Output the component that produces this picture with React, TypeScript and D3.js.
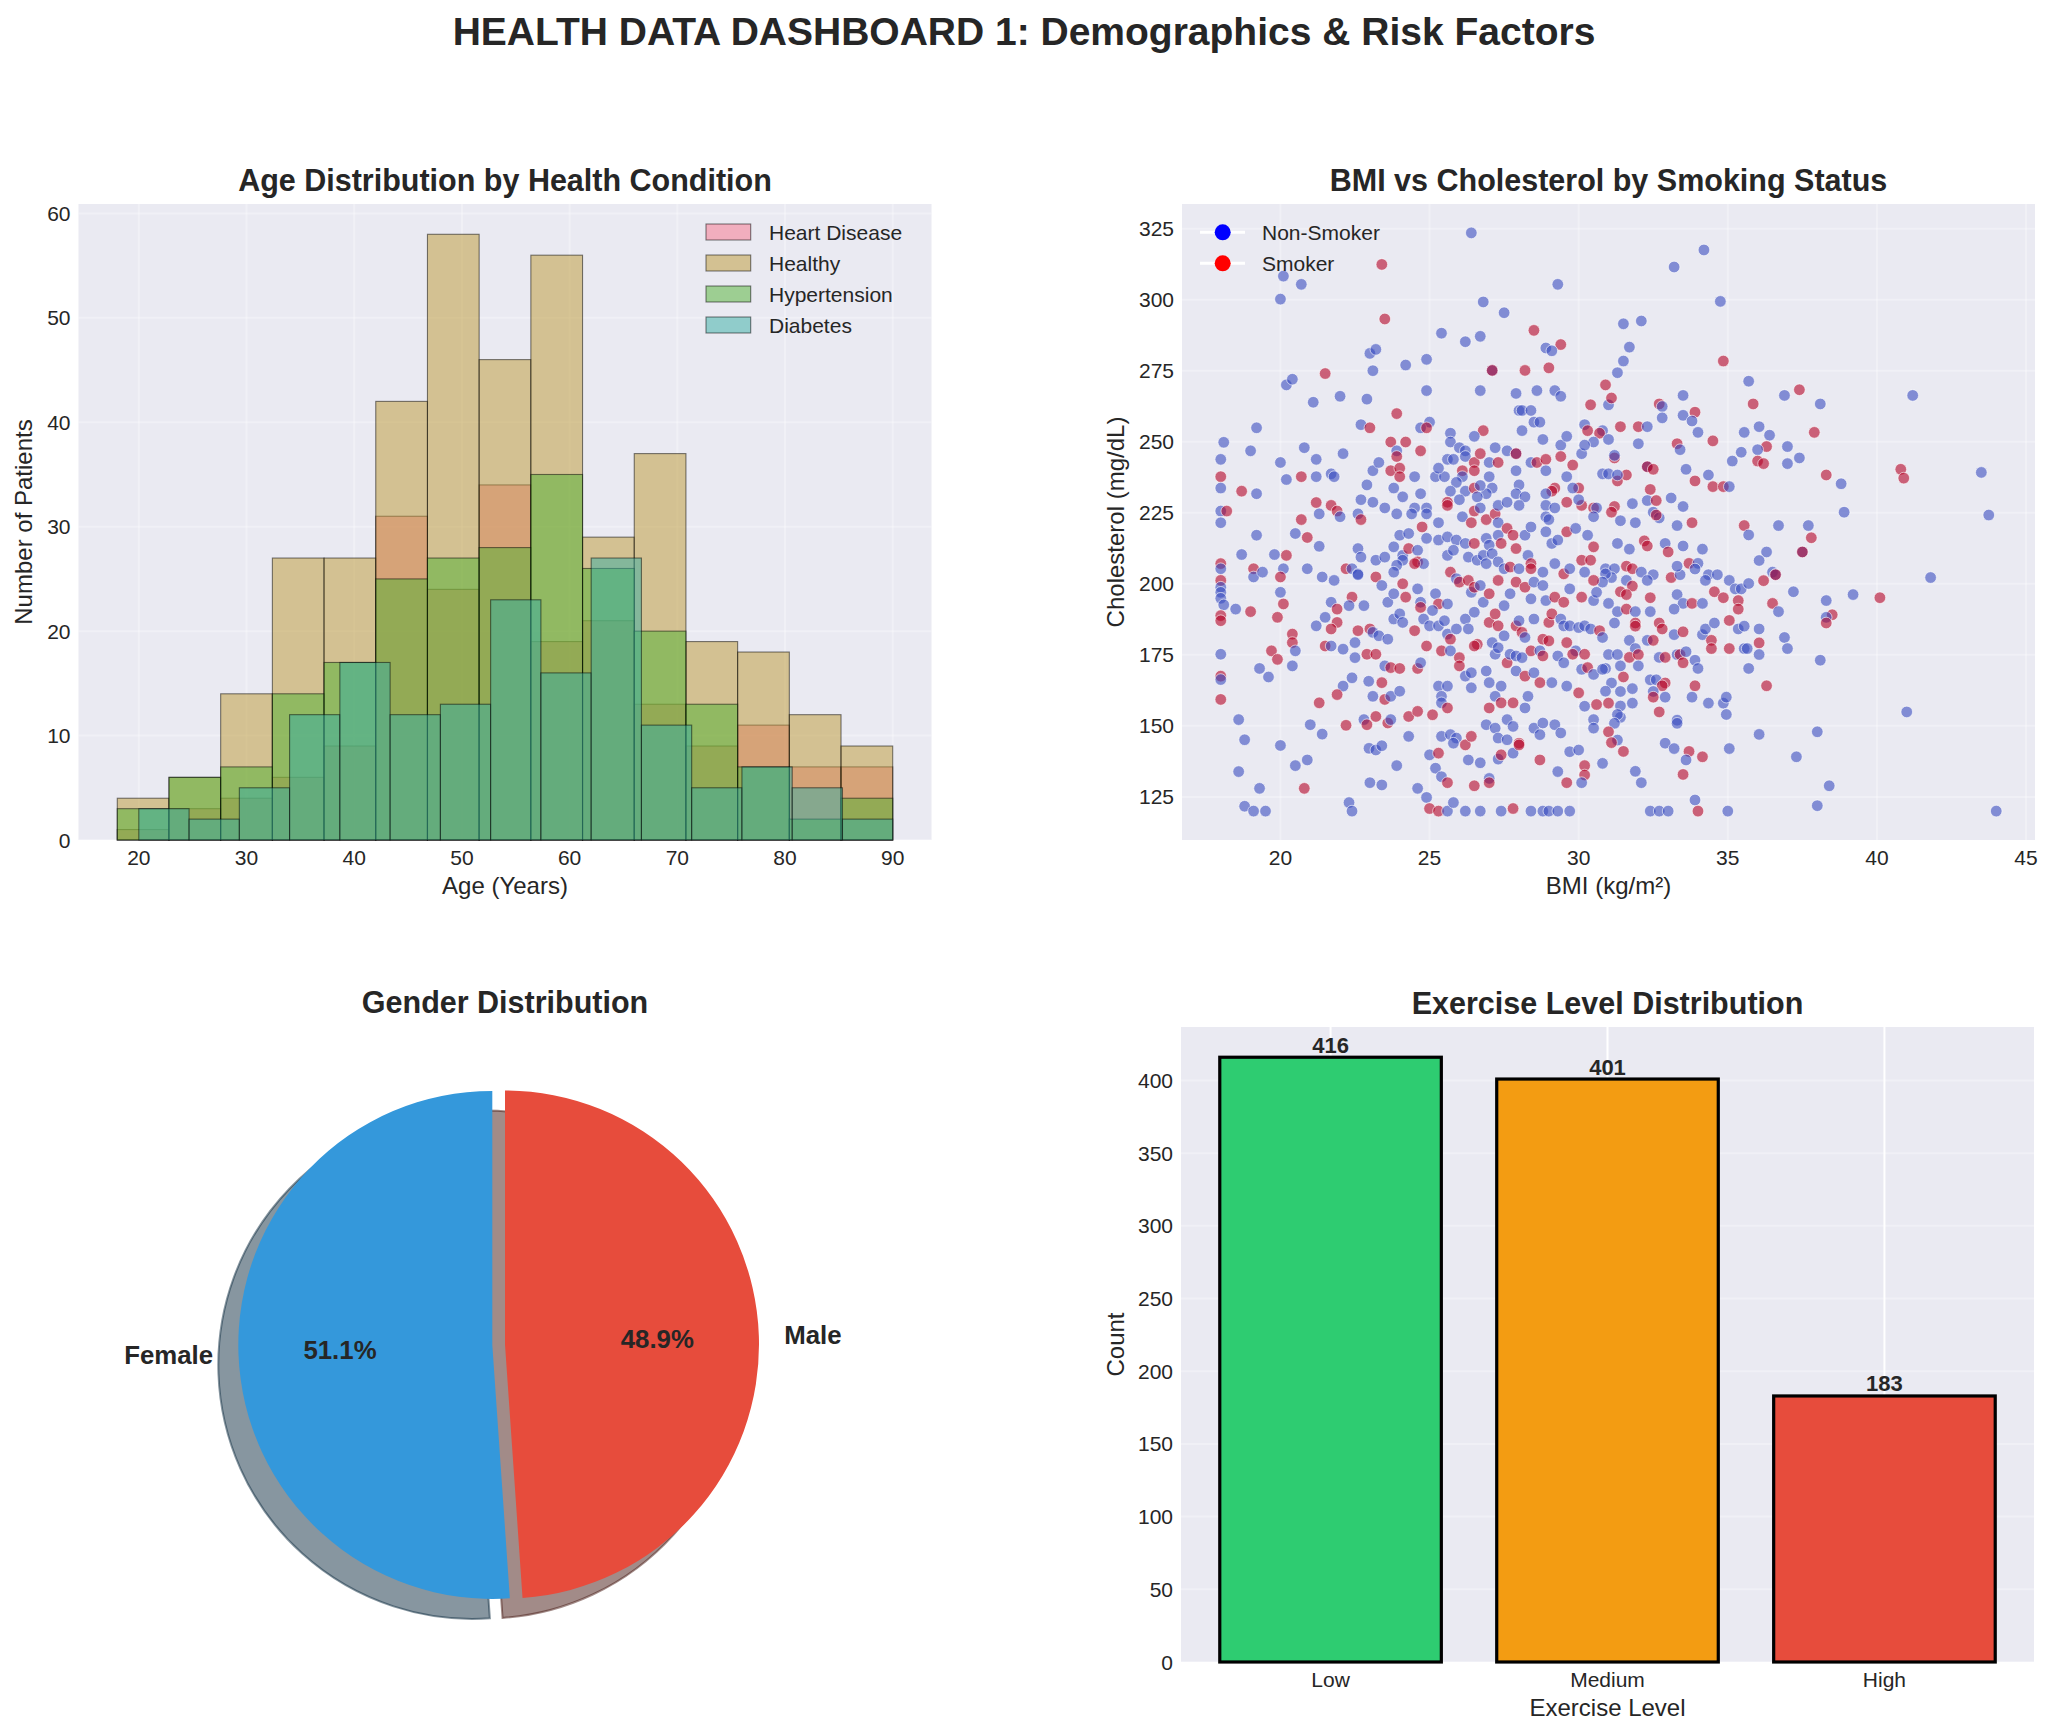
import React from 'react';
import * as d3 from 'd3';

const FONT = '"Liberation Sans", Arial, Helvetica, sans-serif';
const TXT = '#262626';
const AX_BG = '#eaeaf2';

// ---------- Panel 1: age histogram ----------
const conditions = ['Heart Disease', 'Healthy', 'Hypertension', 'Diabetes'];
const conditionColors = ['#f77189', '#bb9832', '#50b131', '#36ada4'];
const heartDiseaseCounts = [1, 3, 4, 6, 9, 31, 24, 34, 19, 21, 13, 9, 11, 7, 7];
const healthyCounts = [4, 6, 14, 27, 27, 42, 58, 46, 56, 29, 37, 19, 18, 12, 9];
const hypertensionCounts = [3, 6, 7, 14, 17, 25, 27, 28, 35, 26, 20, 13, 7, 2, 4];
const diabetesCounts = [3, 2, 5, 12, 17, 12, 13, 23, 16, 27, 11, 5, 7, 5, 2];
const conditionCounts = [heartDiseaseCounts, healthyCounts, hypertensionCounts, diabetesCounts];
const conditionAgeRanges = [[18, 90], [18, 90], [18, 90], [20, 90]];
const ageTicks = [20, 30, 40, 50, 60, 70, 80, 90];
const patientTicks = [0, 10, 20, 30, 40, 50, 60];

// ---------- Panel 2: BMI vs cholesterol (bmi, cholesterol, smoker) ----------
const smokingLabels = ['Non-Smoker', 'Smoker'];
const smokingColors = ['#3b4cc0', '#b40426'];
const smokingLegendColors = ['#0000ff', '#ff0000'];
const bmiTicks = [20, 25, 30, 35, 40, 45];
const cholTicks = [125, 150, 175, 200, 225, 250, 275, 300, 325];
const scatterPoints: number[][] = [
  [26.4,323.5,0],[23.4,312.4,1],[20.1,308.3,0],[20.7,305.4,0],[20.0,300.2,0],[29.3,305.4,0],[26.8,299.2,0],[27.5,295.4,0],[23.5,293.2,1],[25.4,288.2,0],[26.2,285.2,0],[26.7,287.1,0],[28.5,289.2,1],[29.4,284.2,1],[28.9,283.0,0],[29.1,282.0,0],[23.0,281.1,0],[23.2,282.5,0],[23.1,275.0,0],[24.2,277.0,0],[24.9,279.0,0],[27.1,275.1,0],[27.1,275.1,1],[28.2,275.1,1],[29.0,276.0,1],[21.5,274.0,1],[20.2,270.0,0],[20.4,272.0,0],[21.1,263.9,0],[22.0,266.0,0],[22.9,265.0,0],[24.9,268.0,0],[26.7,268.0,0],[27.9,267.0,0],[28.6,268.0,0],[29.2,268.0,0],[29.4,266.0,0],[30.9,270.0,1],[30.4,263.0,1],[31.0,263.0,0],[23.9,259.9,1],[28.0,261.0,0],[28.1,261.0,0],[28.4,261.0,0],[28.5,256.9,0],[28.7,256.9,0],[19.2,254.9,0],[22.7,256.0,0],[23.0,254.9,1],[25.0,256.9,0],[24.7,254.9,0],[24.9,254.9,1],[26.8,253.9,1],[28.1,253.9,0],[30.2,256.0,0],[30.3,253.9,1],[30.8,253.9,0],[30.7,253.0,1],[18.1,249.8,0],[19.0,246.8,0],[18.0,243.8,0],[18.0,237.7,1],[18.0,233.7,0],[18.7,232.6,1],[19.2,231.7,0],[18.0,225.6,0],[18.2,225.6,1],[18.0,221.5,0],[20.0,242.7,0],[20.2,236.7,0],[20.7,237.7,1],[20.8,247.9,0],[21.2,243.8,0],[21.2,237.7,0],[21.7,238.7,0],[21.8,237.7,0],[22.1,245.8,0],[21.2,228.6,1],[21.7,227.6,1],[21.9,225.6,1],[21.3,224.6,0],[20.7,222.6,1],[22.0,223.6,0],[22.6,224.6,0],[22.7,222.6,1],[22.7,229.6,0],[22.9,234.8,0],[23.1,239.8,0],[23.3,242.7,0],[23.1,228.7,0],[23.5,226.7,0],[23.7,249.9,1],[24.2,249.9,1],[23.9,246.8,0],[23.9,244.8,1],[23.7,239.8,1],[24.0,240.7,1],[24.0,237.7,1],[23.8,233.7,0],[24.1,230.6,0],[23.9,224.6,0],[24.5,237.7,0],[24.7,246.8,1],[24.7,231.7,0],[24.5,226.7,0],[24.4,224.6,0],[24.9,226.7,0],[25.2,237.7,0],[25.5,237.7,0],[25.3,240.7,0],[25.7,253.0,0],[25.7,249.9,0],[26.0,247.9,0],[26.2,246.8,0],[25.6,243.8,0],[25.8,243.8,0],[26.5,251.9,0],[26.2,244.8,0],[26.5,242.7,1],[26.7,245.8,1],[27.0,242.7,0],[27.3,242.7,1],[27.2,247.9,0],[27.6,246.8,0],[27.9,245.8,0],[27.9,245.8,1],[26.1,239.8,1],[26.1,237.7,0],[25.9,235.7,0],[25.7,232.6,0],[26.2,232.6,0],[26.5,233.7,1],[27.0,237.7,0],[27.1,233.7,0],[26.9,231.7,0],[26.6,230.6,0],[26.0,229.6,0],[25.6,228.7,1],[26.1,223.6,0],[26.5,225.6,1],[26.7,226.7,0],[26.9,222.6,1],[27.2,224.6,1],[27.3,227.6,0],[27.6,228.7,0],[27.9,239.8,0],[28.0,234.8,0],[27.9,231.7,0],[28.2,230.6,0],[28.0,227.6,0],[28.4,242.7,0],[28.6,242.7,1],[28.9,243.8,1],[28.8,250.8,0],[28.9,239.8,0],[29.4,248.8,0],[29.4,244.8,1],[29.6,251.9,0],[29.8,241.8,1],[29.6,237.7,0],[30.0,233.7,1],[29.8,233.7,0],[29.2,233.7,1],[29.1,232.6,1],[28.9,231.7,0],[29.6,228.7,1],[30.1,227.6,1],[30.0,229.6,0],[28.9,227.6,0],[29.2,226.7,0],[28.9,223.6,0],[29.0,222.6,0],[30.5,249.9,0],[30.1,245.8,0],[30.2,248.8,0],[31.0,250.8,0],[30.8,238.7,0],[31.0,238.7,0],[30.5,226.7,1],[30.6,226.7,0],[30.5,223.6,0],[25.6,227.6,1],[25.3,221.5,0],[24.9,224.6,0],[26.4,221.5,1],[27.3,221.5,0],[26.5,239.8,1],[26.7,234.6,0],
  [34.2,317.5,0],[33.2,311.5,0],[34.75,299.4,0],[31.5,291.5,0],[32.1,292.5,0],[31.7,283.3,0],[31.5,278.4,0],[31.3,274.3,0],[34.85,278.4,1],[35.7,271.3,0],[37.4,268.3,1],[36.9,266.3,0],[38.1,263.3,0],[41.2,266.3,0],[31.1,265.4,1],[32.7,263.3,1],[32.8,262.4,0],[33.5,266.3,0],[33.5,259.3,0],[33.9,260.4,1],[33.8,257.3,0],[34.0,253.3,0],[35.85,263.3,1],[31.4,255.3,1],[32.0,255.3,1],[32.3,255.3,0],[32.8,258.4,0],[32.0,249.3,0],[33.3,249.3,1],[33.4,247.2,0],[34.5,250.3,1],[35.55,253.3,0],[36.05,255.3,0],[36.4,252.3,0],[37.9,253.3,1],[36.3,248.3,1],[36.0,247.2,0],[37.0,248.3,0],[35.45,246.3,0],[35.15,243.2,0],[36.0,243.2,1],[36.2,242.3,1],[37.0,242.3,0],[37.4,244.3,0],[31.2,244.3,1],[31.2,245.2,0],[32.3,241.2,0],[32.3,241.2,1],[32.5,240.3,1],[33.6,240.3,0],[34.35,238.3,0],[33.9,236.2,1],[34.5,234.2,1],[34.85,234.2,1],[35.05,234.2,0],[38.3,238.3,1],[38.8,235.2,0],[40.8,240.3,1],[40.9,237.2,1],[43.5,239.2,0],[43.75,224.2,0],[38.9,225.2,0],[31.3,236.2,1],[31.6,238.3,1],[31.3,238.3,0],[32.4,233.2,1],[32.3,229.3,0],[32.6,229.3,1],[33.1,230.2,0],[33.5,227.2,0],[31.8,228.2,0],[31.2,227.2,1],[31.1,225.2,1],[32.5,225.2,0],[32.7,223.2,0],[32.6,224.2,1],[31.4,222.2,0],[31.9,221.5,0],[33.3,220.5,0],[33.8,221.5,1],[35.55,220.5,1],[36.7,220.5,0],[37.7,220.5,0],
  [35.7,217.2,0],[37.8,216.2,1],[37.5,211.2,0],[37.5,211.2,1],[31.3,214.2,0],[31.7,212.2,0],[32.2,215.1,1],[32.3,213.3,1],[32.9,214.2,0],[33.0,211.2,1],[33.5,213.3,0],[34.15,212.2,0],[36.3,211.2,0],[36.05,208.2,0],[36.5,204.1,0],[36.6,203.2,0],[36.6,203.2,1],[36.2,201.1,1],[37.2,197.2,0],[41.8,202.2,0],[39.2,196.2,0],[40.1,195.1,1],[38.3,194.1,0],[38.5,189.1,1],[38.3,188.2,0],[38.3,186.2,1],[36.5,193.1,1],[36.7,190.2,0],[30.9,205.3,0],[31.2,205.3,0],[31.6,206.2,1],[31.8,205.3,1],[32.1,204.1,0],[32.5,203.2,0],[32.3,201.2,0],[31.6,201.2,0],[31.8,199.2,1],[31.1,202.2,0],[33.1,202.2,1],[33.4,203.2,0],[33.3,206.2,0],[33.7,207.2,1],[34.0,207.2,0],[33.9,205.2,0],[34.35,203.2,0],[34.65,203.2,0],[34.25,201.2,0],[35.05,201.2,0],[35.25,198.2,0],[35.45,198.2,0],[35.7,200.1,0],[34.55,197.2,1],[34.85,195.1,1],[35.35,194.1,1],[35.35,191.1,1],[31.4,197.2,1],[31.6,196.2,1],[31.0,193.1,0],[31.3,190.2,0],[31.6,191.1,1],[31.9,190.2,0],[32.4,195.1,1],[32.4,190.2,0],[33.3,196.2,0],[33.5,193.1,0],[33.8,193.1,1],[34.15,193.1,0],[33.2,191.1,0],[31.2,186.2,0],[31.9,186.2,1],[31.9,185.1,1],[32.7,186.2,1],[32.8,184.1,1],[33.2,182.1,0],[33.5,183.1,1],[34.15,182.1,0],[34.25,184.1,0],[34.55,186.2,0],[35.05,187.1,1],[35.35,184.1,0],[35.55,185.1,0],[36.05,184.1,0],[36.05,179.2,1],[36.9,181.1,0],[37.0,177.2,0],[31.7,180.1,0],[32.3,180.1,0],[32.5,180.1,1],[31.9,177.2,0],[34.45,180.1,1],[34.45,177.2,1],[35.05,177.2,1],[35.55,177.2,0],[35.65,177.2,0],[36.05,175.1,0],[31.0,175.1,0],[31.3,175.1,0],[31.7,174.1,1],[32.0,175.1,1],[32.7,174.1,0],[32.9,174.1,1],[33.3,175.1,0],[33.4,175.1,1],[33.6,176.1,0],[33.5,172.2,1],[33.9,173.1,0],[34.0,170.2,0],[35.7,170.2,0],[38.1,173.1,0],[31.4,171.1,0],[32.0,171.1,0],[30.9,170.2,0],[31.5,167.2,1],[31.1,165.1,0],[31.4,162.1,0],[31.8,163.1,0],[31.8,158.0,0],[31.0,158.0,1],[32.4,166.2,0],[32.6,166.2,0],[32.9,165.1,1],[32.8,164.1,1],[32.5,162.1,0],[32.5,160.1,1],[32.9,160.1,0],[33.9,164.1,1],[33.8,160.1,0],[34.35,158.0,0],[34.85,158.0,0],[34.95,160.1,0],[34.95,154.0,0],[36.3,164.1,1],[32.7,154.9,1],[31.4,157.0,0],[31.4,153.0,0],[31.3,154.0,0],[31.2,150.9,0],[33.3,152.0,0],[33.3,150.9,0],[31.0,147.9,1],[31.3,145.0,0],[31.1,144.1,1],[31.5,141.0,1],[32.9,143.9,0],[33.2,142.0,0],[33.7,141.0,1],[34.15,139.1,1],[33.6,138.0,0],[35.05,142.0,0],[36.05,147.0,0],[38.0,147.9,0],[37.3,139.1,0],[41.0,154.9,0],[31.9,134.0,0],[32.1,130.0,0],[33.5,132.9,1],[38.4,128.9,0],[33.9,123.9,0],[32.4,120,0],[32.7,120,0],[33.0,120,0],[34.0,120,1],[35.0,120,0],[38.0,121.9,0],[44.0,120,0],
  [19.2,217.1,0],[20.5,217.7,0],[20.9,216.3,1],[21.3,213.2,0],[22.6,212.4,0],[22.7,209.4,0],[24.0,217.1,0],[24.3,217.7,0],[24.75,220,1],[24.9,216,0],[25.3,215.4,0],[25.6,216.5,0],[25.9,215.4,0],[26.2,214.2,0],[26.5,214.2,1],[26.9,216,0],[27.0,213.6,0],[27.3,217.1,0],[27.4,214.2,1],[27.6,219.5,1],[27.8,217.1,1],[28.2,217.1,0],[28.4,220,0],[27.9,212.4,1],[28.9,218.3,0],[29.1,214.2,0],[29.3,215.4,0],[29.6,218.3,1],[29.9,219.5,0],[30.3,217.1,0],[30.5,213,1],
  [18.0,207.1,1],[18.0,205.3,0],[18.7,210.3,0],[19.1,205.3,1],[19.1,202.4,0],[19.4,204.1,0],[19.8,210.3,0],[20.2,210,1],[20.1,205.3,0],[20.0,202.4,1],[20.9,205.3,0],[21.4,202.4,0],[21.8,201.2,0],[22.2,205.3,1],[22.4,205.3,0],[22.6,203.5,0],[23.2,208.3,0],[23.5,209.4,0],[23.8,213,0],[24.1,210,0],[24.3,212.4,1],[24.6,211.8,0],[24.6,207.7,1],[24.8,207.1,0],[24.5,207.1,1],[24.1,208.3,0],[23.9,206.5,0],[23.8,204.1,0],[25.6,210,0],[25.8,211.8,0],[26.3,209.4,0],[26.6,208.3,0],[26.8,210,0],[26.9,207.1,0],[27.1,210.6,0],[27.3,207.7,0],[27.5,205.3,0],[27.7,205.9,1],[28.0,205.3,0],[28.3,210,0],[28.4,207.1,1],[28.4,205.3,1],[28.8,204.1,0],[29.2,207.1,0],[29.5,203.5,1],[29.7,205.3,0],[30.1,208.3,1],[30.4,208.3,1],[30.2,204.1,0],[30.9,203.5,0],
  [18.0,201.2,1],[18.0,198.8,0],[18.0,197.0,0],[18.0,194.9,0],[18.1,192.6,0],[18.5,191.1,0],[19.0,190.2,1],[20.0,197.0,0],[20.1,192.9,1],[19.9,188.2,1],[22.4,195.3,1],[22.6,203.2,0],[22.8,192.3,0],[23.2,202.4,1],[23.4,199.4,0],[23.6,193.5,0],[23.8,196.5,0],[24.1,200,1],[24.2,195.3,1],[24.6,198.2,0],[24.7,193.5,0],[24.7,191.7,1],[25.2,196.5,0],[25.3,192.9,1],[25.6,192.9,0],[25.7,204.1,1],[25.9,201.8,0],[26.0,200.6,1],[26.3,201.2,1],[26.4,197,0],[26.5,198.8,1],[26.7,199.4,0],[26.8,193.5,0],[27.0,196.5,1],[27.3,201.2,1],[27.5,192.3,0],[27.7,196.5,0],[27.9,200.6,1],[28.2,198.8,1],[28.5,200.6,0],[28.8,199.4,0],[28.4,194.7,0],[28.9,194.1,0],[29.2,195.3,1],[29.5,193.5,1],[29.7,198.2,0],[30.1,195.3,1],[30.5,194.1,0],[30.6,197,0],[30.8,200.6,0],[30.5,201.2,1],
  [18.0,188.8,1],[18.0,187,1],[20.4,182.3,1],[20.4,179.3,1],[20.5,176.4,0],[21.2,185.2,0],[21.5,188.2,0],[21.7,193.5,0],[21.9,191.1,1],[21.9,186.4,1],[21.7,184.1,1],[22.3,192.3,0],[22.6,183.5,1],[23.0,184.1,1],[23.1,182.9,0],[23.3,181.7,0],[23.6,180.5,0],[23.8,187.6,0],[24.0,189.4,0],[24.1,186.4,0],[24.5,183.5,1],[24.8,187.6,0],[25.0,185.2,0],[25.3,185.2,0],[25.1,190.6,0],[25.5,187,0],[25.6,182.3,0],[25.7,180.5,1],[25.9,184.1,0],[26.2,187.6,0],[26.3,184.1,0],[26.5,190,0],[26.6,178.7,1],[27.0,186.4,1],[27.2,189.4,1],[27.3,185.2,1],[27.5,181.7,0],[27.9,185.2,1],[28.0,187,0],[28.1,182.9,1],[28.2,181.1,0],[28.5,187.6,0],[28.8,180.5,1],[29.0,179.9,1],[29.0,186.4,1],[29.1,189.4,1],[29.4,187.6,0],[29.5,185.2,0],[29.7,185.2,0],[30.0,184.6,0],[30.2,185.2,0],[30.4,184.1,0],[30.7,183.5,1],[30.8,181.1,0],[29.6,179.3,1],[29.9,176.4,0],[28.4,176.4,1],[28.7,176.4,0],
  [18.0,175.2,0],[18.0,167.5,1],[18.0,166.3,0],[18.0,159.3,1],[19.3,170.2,0],[19.6,167.2,0],[19.7,176.4,1],[19.9,173.4,1],[20.4,171.1,0],[21.5,178.1,1],[21.7,178.1,0],[22.1,177,0],[22.5,179.3,0],[22.5,174,0],[22.9,175.2,1],[23.2,175.2,1],[23.5,171.1,0],[23.7,170.5,1],[24.0,170.2,1],[24.6,170.2,1],[24.7,172.2,0],[24.9,178.1,1],[25.4,176.4,1],[25.7,176.4,0],[26.0,174,1],[26.0,171.1,1],[26.2,167.5,0],[26.4,168.7,0],[26.5,178.1,1],[26.9,169.3,0],[27.1,179.3,0],[27.2,175.2,0],[27.3,177.5,0],[27.6,172.2,1],[27.7,175.2,0],[27.9,174.6,0],[28.1,174,0],[27.9,169.3,0],[28.2,167.5,1],[28.5,168.7,0],[28.8,174.6,1],[29.3,174.6,0],[29.5,172.2,0],[29.8,175.2,1],[30.2,175.2,1],[30.1,169.9,0],[30.3,170.5,1],[30.5,168.1,0],[30.8,169.9,0],
  [22.1,164,0],[22.4,166.9,0],[21.9,161,1],[21.3,158.1,1],[22.96,165.7,0],[23.4,165.2,1],[23.1,160.4,0],[23.5,159.3,1],[23.7,160.4,0],[24.0,162.2,0],[25.3,164,0],[25.6,164,0],[25.4,160.4,0],[25.4,158.1,0],[25.6,156.3,1],[26.4,163.4,0],[27.0,165.2,0],[27.4,164,0],[27.2,160.4,0],[27.0,156.3,1],[27.4,158.1,1],[27.8,158.1,1],[28.2,156.3,0],[28.3,160.4,0],[28.7,165.2,1],[29.1,165.2,0],[29.6,164,0],[30.0,161.6,1],[30.2,156.9,0],[30.6,157.5,1],[30.9,162.2,0],
  [18.6,152.2,0],[18.8,145.1,0],[20.0,143.1,0],[21.0,150.4,0],[21.4,147.1,0],[22.2,150.2,1],[22.8,152.2,0],[22.9,150.4,1],[23.2,153.3,1],[23.6,151,1],[23.7,152.2,0],[24.3,146.3,0],[24.3,153.3,1],[24.6,155.1,1],[25.1,153.9,1],[25.4,146.3,0],[25.7,146.9,0],[25.9,145.7,0],[25.8,143.9,0],[26.2,143.3,1],[26.4,146.3,1],[26.9,150.4,0],[27.2,149.2,0],[27.3,145.7,0],[27.6,152.2,0],[27.8,149.8,0],[27.6,145.1,0],[28.0,143.9,1],[28.5,149.2,0],[28.8,151,0],[29.2,150.4,0],[29.4,147.5,0],[28.7,146.9,0],[30.5,152.2,0],[30.5,149.2,0],
  [18.6,133.9,0],[19.3,128,0],[20.5,136,0],[20.9,138,0],[20.8,128,1],[22.97,142.1,0],[23.2,141.5,0],[23.4,143,0],[23.0,130,0],[23.4,129.2,0],[23.9,136,0],[25.0,139.8,0],[25.3,140.4,1],[25.2,135.1,0],[25.4,132.1,0],[25.6,130,1],[26.3,138,0],[26.7,137,0],[26.5,128.9,1],[27.0,131.5,0],[27.0,130,1],[27.3,138.3,0],[27.4,139.8,1],[27.8,140.4,0],[28.0,143.3,1],[28.7,138,1],[29.3,133.9,0],[29.6,130,1],[29.7,140.9,0],[30.0,141.5,0],[30.2,136,1],[30.2,132.7,1],[30.1,130,0],[30.8,136.8,0],
  [18.8,121.7,0],[19.1,120,0],[19.5,120,0],[22.3,123,0],[22.4,120,0],[24.6,128,0],[24.9,124.8,0],[25.0,120.9,1],[25.3,120,1],[25.6,120,0],[25.8,123,0],[26.2,120,0],[26.7,120,0],[27.4,120,0],[27.8,120.9,1],[28.4,120,0],[28.8,120,0],[29.0,120,0],[29.3,120,0],[29.7,120,0]
];

// ---------- Panel 3: gender pie ----------
const genderLabels = ['Female', 'Male'];
const genderCounts = [511, 489];
const genderColors = ['#3498db', '#e74c3c'];
const genderExplode = [0.05, 0];

// ---------- Panel 4: exercise bars ----------
const exerciseLevels = ['Low', 'Medium', 'High'];
const exerciseCounts = [416, 401, 183];
const exerciseColors = ['#2ecc71', '#f39c12', '#e74c3c'];
const countTicks = [0, 50, 100, 150, 200, 250, 300, 350, 400];

const TICK_FS = 21;
const LABEL_FS = 24;
const TITLE_FS = 30.5;

function padDomain(lo: number, hi: number) {
  const p = (hi - lo) * 0.05;
  return [lo - p, hi + p];
}

function Axes({ L, R, T, B, xTicks, yTicks, x, y, xTickFmt, yTickFmt, xGridOpacity = 0.3, yGridOpacity = 0.3, title, xLabel, yLabel, yLabelX, children }: any) {
  return (
    <g>
      <rect x={L} y={T} width={R - L} height={B - T} fill={AX_BG} />
      {yTicks.map((t: number) => (
        <line key={'gy' + t} x1={L} x2={R} y1={y(t)} y2={y(t)} stroke="#ffffff" strokeOpacity={yGridOpacity} strokeWidth={2} />
      ))}
      {xTicks.map((t: number) => (
        <line key={'gx' + t} x1={x(t)} x2={x(t)} y1={T} y2={B} stroke="#ffffff" strokeOpacity={xGridOpacity} strokeWidth={2} />
      ))}
      {children}
      {yTicks.map((t: number) => (
        <text key={'ty' + t} x={L - 8} y={y(t)} textAnchor="end" dominantBaseline="central" fontSize={TICK_FS} fill={TXT}>
          {yTickFmt ? yTickFmt(t) : t}
        </text>
      ))}
      {xTicks.map((t: number) => (
        <text key={'tx' + t} x={x(t)} y={B + 25} textAnchor="middle" fontSize={TICK_FS} fill={TXT}>
          {xTickFmt ? xTickFmt(t) : t}
        </text>
      ))}
      <text x={(L + R) / 2} y={T - 13} textAnchor="middle" fontSize={TITLE_FS} fontWeight="bold" fill={TXT}>{title}</text>
      <text x={(L + R) / 2} y={B + 54} textAnchor="middle" fontSize={LABEL_FS} fill={TXT}>{xLabel}</text>
      <text transform={`translate(${yLabelX},${(T + B) / 2}) rotate(-90)`} textAnchor="middle" fontSize={LABEL_FS} fill={TXT}>{yLabel}</text>
    </g>
  );
}

function AgeHistogram() {
  const L = 78.5, R = 931.5, T = 204, B = 840;
  const lo = d3.min(conditionAgeRanges, (r) => r[0]) as number;
  const hi = d3.max(conditionAgeRanges, (r) => r[1]) as number;
  const x = d3.scaleLinear().domain(padDomain(lo, hi)).range([L, R]);
  const maxCount = d3.max(conditionCounts.flat()) as number;
  const y = d3.scaleLinear().domain([0, maxCount * 1.05]).range([B, T]);
  return (
    <Axes L={L} R={R} T={T} B={B} x={x} y={y} xTicks={ageTicks} yTicks={patientTicks}
      title="Age Distribution by Health Condition" xLabel="Age (Years)" yLabel="Number of Patients" yLabelX={32.4}>
      {conditionCounts.map((counts, si) => {
        const [a, b] = conditionAgeRanges[si];
        const n = counts.length;
        const edges = d3.range(n + 1).map((i) => a + ((b - a) * i) / n);
        return (
          <g key={si}>
            {counts.map((c, i) => (
              <rect key={i} x={x(edges[i])} y={y(c)} width={x(edges[i + 1]) - x(edges[i])} height={y(0) - y(c)}
                fill={conditionColors[si]} fillOpacity={0.5} stroke="#000" strokeOpacity={0.5} strokeWidth={1.1} />
            ))}
          </g>
        );
      })}
      {conditions.map((name, i) => (
        <g key={name}>
          <rect x={706} y={232 + i * 31 - 8} width={44.7} height={16} fill={conditionColors[i]} fillOpacity={0.5} stroke="#000" strokeOpacity={0.5} strokeWidth={1.1} />
          <text x={769} y={232 + i * 31} dominantBaseline="central" fontSize={TICK_FS} fill={TXT}>{name}</text>
        </g>
      ))}
    </Axes>
  );
}

function BmiScatter() {
  const L = 1182, R = 2035, T = 204, B = 840;
  const bx = d3.extent(scatterPoints, (p) => p[0]) as [number, number];
  const by = d3.extent(scatterPoints, (p) => p[1]) as [number, number];
  const x = d3.scaleLinear().domain(padDomain(bx[0], bx[1])).range([L, R]);
  const y = d3.scaleLinear().domain(padDomain(by[0], by[1])).range([B, T]);
  return (
    <Axes L={L} R={R} T={T} B={B} x={x} y={y} xTicks={bmiTicks} yTicks={cholTicks}
      title="BMI vs Cholesterol by Smoking Status" xLabel="BMI (kg/m²)" yLabel="Cholesterol (mg/dL)" yLabelX={1124.4}>
      {scatterPoints.map((p, i) => (
        <circle key={i} cx={x(p[0])} cy={y(p[1])} r={5.8} fill={smokingColors[p[2]]} fillOpacity={0.6}
          stroke="#fff" strokeOpacity={0.6} strokeWidth={1} />
      ))}
      {smokingLabels.map((name, i) => (
        <g key={name}>
          <line x1={1200} x2={1245} y1={232.3 + i * 31} y2={232.3 + i * 31} stroke="#fff" strokeWidth={3} />
          <circle cx={1222.7} cy={232.3 + i * 31} r={8} fill={smokingLegendColors[i]} />
          <text x={1262} y={232.3 + i * 31} dominantBaseline="central" fontSize={TICK_FS} fill={TXT}>{name}</text>
        </g>
      ))}
    </Axes>
  );
}

function GenderPie() {
  const L = 78.5, R = 931.5, T = 1027, B = 1662;
  const cx = (L + R) / 2, cy = (T + B) / 2;
  const r = Math.min(R - L, B - T) / 2.5;
  const total = d3.sum(genderCounts);
  const pie = d3.pie<number>().sort(null).startAngle(0).endAngle(-2 * Math.PI);
  const arcs = pie(genderCounts);
  const arc = d3.arc<any>().innerRadius(0).outerRadius(r);
  const info = arcs.map((a, i) => {
    const m = (a.startAngle + a.endAngle) / 2;
    const dx = Math.sin(m), dy = -Math.cos(m);
    const ox = cx + genderExplode[i] * r * dx, oy = cy + genderExplode[i] * r * dy;
    return { a, dx, dy, ox, oy };
  });
  const shadowOff = 20;
  return (
    <g>
      <text x={cx} y={T - 14} textAnchor="middle" fontSize={TITLE_FS} fontWeight="bold" fill={TXT}>Gender Distribution</text>
      {info.map(({ a, ox, oy }, i) => {
        const c = d3.rgb(genderColors[i]);
        const sc = d3.rgb(c.r * 0.3, c.g * 0.3, c.b * 0.3).toString();
        return (
          <path key={'s' + i} d={arc(a) as string} transform={`translate(${ox - shadowOff},${oy + shadowOff})`}
            fill={sc} fillOpacity={0.5} stroke={sc} strokeOpacity={0.5} strokeWidth={2} />
        );
      })}
      {info.map(({ a, ox, oy }, i) => (
        <path key={'w' + i} d={arc(a) as string} transform={`translate(${ox},${oy})`} fill={genderColors[i]} />
      ))}
      {info.map(({ dx, dy, ox, oy }, i) => (
        <g key={'t' + i}>
          <text x={ox + 1.1 * r * dx} y={oy + 1.1 * r * dy} textAnchor={dx < 0 ? 'end' : 'start'} dominantBaseline="central"
            fontSize={25.8} fontWeight="bold" fill={TXT}>{genderLabels[i]}</text>
          <text x={ox + 0.6 * r * dx} y={oy + 0.6 * r * dy} textAnchor="middle" dominantBaseline="central"
            fontSize={25.8} fontWeight="bold" fill={TXT}>{((genderCounts[i] / total) * 100).toFixed(1)}%</text>
        </g>
      ))}
    </g>
  );
}

function ExerciseBars() {
  const L = 1181, R = 2034, T = 1027, B = 1662;
  const n = exerciseLevels.length;
  const x = d3.scaleLinear().domain(padDomain(-0.4, n - 1 + 0.4)).range([L, R]);
  const y = d3.scaleLinear().domain([0, (d3.max(exerciseCounts) as number) * 1.05]).range([B, T]);
  const idx = d3.range(n);
  return (
    <Axes L={L} R={R} T={T} B={B} x={x} y={y} xTicks={idx} yTicks={countTicks} xTickFmt={(i: number) => exerciseLevels[i]}
      xGridOpacity={1} yGridOpacity={0.3}
      title="Exercise Level Distribution" xLabel="Exercise Level" yLabel="Count" yLabelX={1124.4}>
      {exerciseCounts.map((c, i) => (
        <g key={i}>
          <rect x={x(i - 0.4)} y={y(c)} width={x(i + 0.4) - x(i - 0.4)} height={y(0) - y(c)} fill={exerciseColors[i]} stroke="#000" strokeWidth={3.2} />
          <text x={x(i)} y={y(c) - 4.5} textAnchor="middle" fontSize={22} fontWeight="bold" fill={TXT}>{c}</text>
        </g>
      ))}
    </Axes>
  );
}

export default function App() {
  return (
    <svg width={2048} height={1732} viewBox="0 0 2048 1732" style={{ position: 'absolute', left: 0, top: 0, background: '#fff', fontFamily: FONT }}>
      <rect width={2048} height={1732} fill="#fff" />
      <text x={1024} y={45} textAnchor="middle" fontSize={39} fontWeight="bold" fill={TXT}>HEALTH DATA DASHBOARD 1: Demographics &amp; Risk Factors</text>
      <AgeHistogram />
      <BmiScatter />
      <GenderPie />
      <ExerciseBars />
    </svg>
  );
}
